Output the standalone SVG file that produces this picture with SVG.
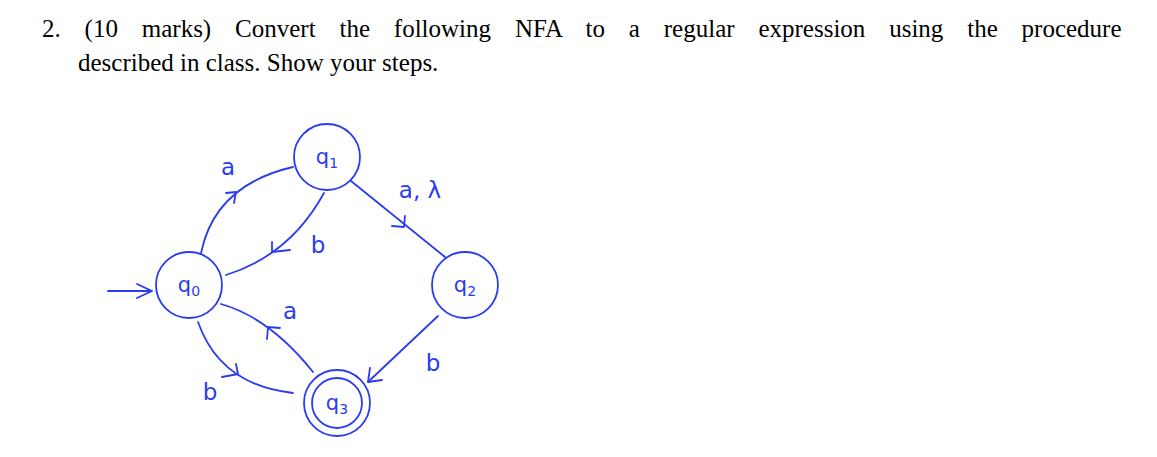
<svg xmlns="http://www.w3.org/2000/svg" width="1157" height="457" viewBox="0 0 1157 457">
<style>
.t{font-family:"Liberation Serif",serif;font-size:25px;fill:#000}
.s{fill:none;stroke:#2a3cf0;stroke-width:1.8;stroke-linecap:round;stroke-linejoin:round}
.l{font-family:"DejaVu Sans",sans-serif;font-size:23px;fill:#2a3cf0;text-anchor:middle}
.q{font-family:"DejaVu Sans",sans-serif;font-size:21px;fill:#2a3cf0;text-anchor:middle}
.q tspan{font-size:14px}
</style>
<rect width="1157" height="457" fill="#fff"/>
<text class="t" x="42" y="37" word-spacing="17.6">2. (10 marks) Convert the following NFA to a regular expression using the procedure</text>
<text class="t" x="78" y="71">described in class. Show your steps.</text>
<g id="connectors">
<path class="s" d="M108,291 H152 M137,284 L152,291 L137,298"/>
<path class="s" d="M201,253 Q215,185 293,167"/><path class="s" d="M226,193 L236,192 L234,203"/>
<path class="s" d="M324,193 Q290,255 226,275"/><path class="s" d="M272,242 L272,252 L290,250"/>
<path class="s" d="M351,181 L445,257"/><path class="s" d="M392,226 L404,227 L405,216"/>
<path class="s" d="M438,316 L368,382"/><path class="s" d="M370,368 L368,382 L382,380"/>
<path class="s" d="M313,372 Q270,318 221,304"/><path class="s" d="M267,339 L268,327 L280,328"/>
<path class="s" d="M198,322 Q220,385 293,393"/><path class="s" d="M236,364 L238,374 L222,377"/>
</g>
<g id="labels">
<text class="l" x="228" y="175">a</text>
<text class="l" x="318" y="253">b</text>
<text class="l" x="420" y="198">a, λ</text>
<text class="l" x="433" y="371">b</text>
<text class="l" x="290" y="319">a</text>
<text class="l" x="210" y="400">b</text>
</g>
<g id="q0"><circle class="s" cx="189" cy="285" r="33"/><text class="q" x="189" y="292">q<tspan dy="4">0</tspan></text></g>
<g id="q1"><circle class="s" cx="327" cy="157" r="33"/><text class="q" x="327" y="164">q<tspan dy="4">1</tspan></text></g>
<g id="q2"><circle class="s" cx="465" cy="285" r="33"/><text class="q" x="465" y="292">q<tspan dy="4">2</tspan></text></g>
<g id="q3"><circle class="s" cx="337" cy="403" r="33"/><circle class="s" cx="337" cy="403" r="25"/><text class="q" x="337" y="410">q<tspan dy="4">3</tspan></text></g>
</svg>
